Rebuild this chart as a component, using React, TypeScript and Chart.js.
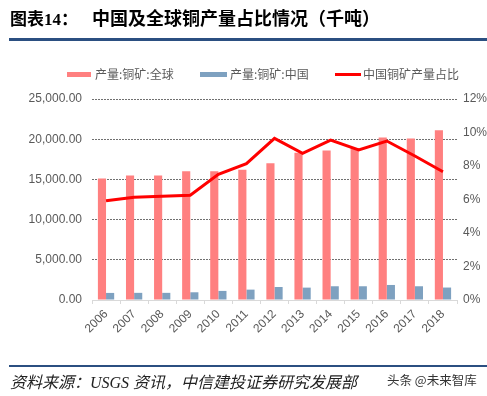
import React, { useEffect, useRef } from "react";
import { Chart, registerables } from "chart.js";
Chart.register(...registerables);

const years = ["2006", "2007", "2008", "2009", "2010", "2011", "2012", "2013", "2014", "2015", "2016", "2017", "2018"];
const globalOutput = [15100, 15500, 15500, 16000, 16000, 16200, 17000, 18300, 18600, 18900, 20200, 20100, 21100];
const chinaOutput = [880, 890, 890, 960, 1130, 1290, 1620, 1540, 1710, 1710, 1870, 1710, 1550];
const chinaShare = [5.93, 6.13, 6.19, 6.25, 7.5, 8.14, 9.65, 8.76, 9.55, 8.96, 9.49, 8.6, 7.66];

const leftMax = 25000;
const leftStep = 5000;
const rightMax = 12;
const rightStep = 2;

const seriesNames = ["产量:铜矿:全球", "产量:铜矿:中国", "中国铜矿产量占比"];
const titleText = "中国及全球铜产量占比情况（千吨）";
const sourceText = "资料来源：USGS 资讯，中信建投证券研究发展部";
const watermark = "头条 @未来智库";

const PINK = "#FF8080";
const BLUE = "#7EA1C0";
const RED = "#FF0000";
const TICK_FONT = { family: "'Liberation Sans', Arial, sans-serif", size: 12 };
const TICK_COLOR = "#595959";
const CJK = "'Noto Sans CJK SC', sans-serif";

export default function App() {
  const ref = useRef<HTMLCanvasElement>(null);

  useEffect(() => {
    const chart = new Chart(ref.current as HTMLCanvasElement, {
      type: "bar",
      data: {
        labels: years,
        datasets: [
          {
            type: "line",
            label: seriesNames[2],
            data: chinaShare,
            yAxisID: "y1",
            borderColor: RED,
            backgroundColor: RED,
            borderWidth: 3,
            pointRadius: 0,
            tension: 0,
            order: 0,
          } as any,
          {
            type: "bar",
            label: seriesNames[0],
            data: globalOutput,
            yAxisID: "y",
            backgroundColor: PINK,
            barPercentage: 1,
            categoryPercentage: 0.58,
            order: 1,
          },
          {
            type: "bar",
            label: seriesNames[1],
            data: chinaOutput,
            yAxisID: "y",
            backgroundColor: BLUE,
            barPercentage: 1,
            categoryPercentage: 0.58,
            order: 2,
          },
        ],
      },
      options: {
        animation: false,
        responsive: false,
        devicePixelRatio: 1,
        layout: { padding: { top: 99, left: 0, right: 0, bottom: 0 } },
        plugins: { legend: { display: false }, tooltip: { enabled: false }, title: { display: false } },
        scales: {
          x: {
            offset: true,
            grid: { offset: true, drawOnChartArea: false, drawTicks: true, tickLength: 4, color: "#d9d9d9" },
            border: { color: "#d9d9d9" },
            ticks: { minRotation: 45, maxRotation: 45, font: TICK_FONT, color: TICK_COLOR, padding: 3 },
            afterFit: (s: any) => {
              s.height = 96;
            },
          } as any,
          y: {
            position: "left",
            min: 0,
            max: leftMax,
            ticks: {
              stepSize: leftStep,
              font: TICK_FONT,
              color: TICK_COLOR,
              padding: 10,
              callback: (v: any) =>
                Number(v).toLocaleString("en-US", { minimumFractionDigits: 2, maximumFractionDigits: 2 }),
            },
            grid: {
              drawTicks: false,
              color: (ctx: any) => (ctx.tick && ctx.tick.value === 0 ? "rgba(0,0,0,0)" : "#707070"),
            },
            border: { display: false, dash: [2, 1] },
            afterFit: (s: any) => {
              s.width = 92;
            },
          } as any,
          y1: {
            position: "right",
            min: 0,
            max: rightMax,
            ticks: {
              stepSize: rightStep,
              font: TICK_FONT,
              color: TICK_COLOR,
              padding: 6,
              callback: (v: any) => `${v}%`,
            },
            grid: { display: false, drawTicks: false },
            border: { display: false },
            afterFit: (s: any) => {
              s.width = 30;
            },
          } as any,
        },
      },
    });
    return () => chart.destroy();
  }, []);

  const abs = (o: React.CSSProperties): React.CSSProperties => ({ position: "absolute", ...o });

  return (
    <div style={{ position: "fixed", left: 0, top: 0, width: 487, height: 396, background: "#fff", overflow: "hidden" }}>
      <canvas ref={ref} width={487} height={396} style={abs({ left: 0, top: 0, width: 487, height: 396 })} />
      <div style={abs({ left: 10, top: 7, fontFamily: CJK, fontWeight: 700, fontSize: 17, color: "#000", lineHeight: "22px", whiteSpace: "nowrap" })}>
        图表<span style={{ fontFamily: "'Liberation Serif', serif" }}>14</span>：
      </div>
      <div style={abs({ left: 92, top: 6, fontFamily: CJK, fontWeight: 700, fontSize: 18, color: "#000", lineHeight: "23px", whiteSpace: "nowrap" })}>
        {titleText}
      </div>
      <div style={abs({ left: 9, top: 38, width: 478, height: 3, background: "#2B4F81" })} />

      <div style={abs({ left: 67, top: 72, width: 24, height: 5, background: PINK })} />
      <div style={abs({ left: 95, top: 66, fontFamily: CJK, fontSize: 12, color: TICK_COLOR, lineHeight: "16px", whiteSpace: "nowrap" })}>
        {seriesNames[0]}
      </div>
      <div style={abs({ left: 200, top: 72, width: 27, height: 5, background: BLUE })} />
      <div style={abs({ left: 230, top: 66, fontFamily: CJK, fontSize: 12, color: TICK_COLOR, lineHeight: "16px", whiteSpace: "nowrap" })}>
        {seriesNames[1]}
      </div>
      <div style={abs({ left: 335, top: 73, width: 26, height: 3, background: RED })} />
      <div style={abs({ left: 363, top: 66, fontFamily: CJK, fontSize: 12, color: TICK_COLOR, lineHeight: "16px", whiteSpace: "nowrap" })}>
        {seriesNames[2]}
      </div>

      <div style={abs({ left: 9, top: 365, width: 478, height: 2, background: "#2B4F81" })} />
      <div style={abs({ left: 10, top: 372, fontFamily: "'Liberation Serif', 'Noto Sans CJK SC', serif", fontStyle: "italic", fontSize: 16, color: "#222", lineHeight: "21px", whiteSpace: "nowrap" })}>
        {sourceText}
      </div>
      <div style={abs({ left: 387, top: 371, fontFamily: CJK, fontSize: 12.5, color: "#333", lineHeight: "17px", whiteSpace: "nowrap" })}>
        {watermark}
      </div>
    </div>
  );
}
